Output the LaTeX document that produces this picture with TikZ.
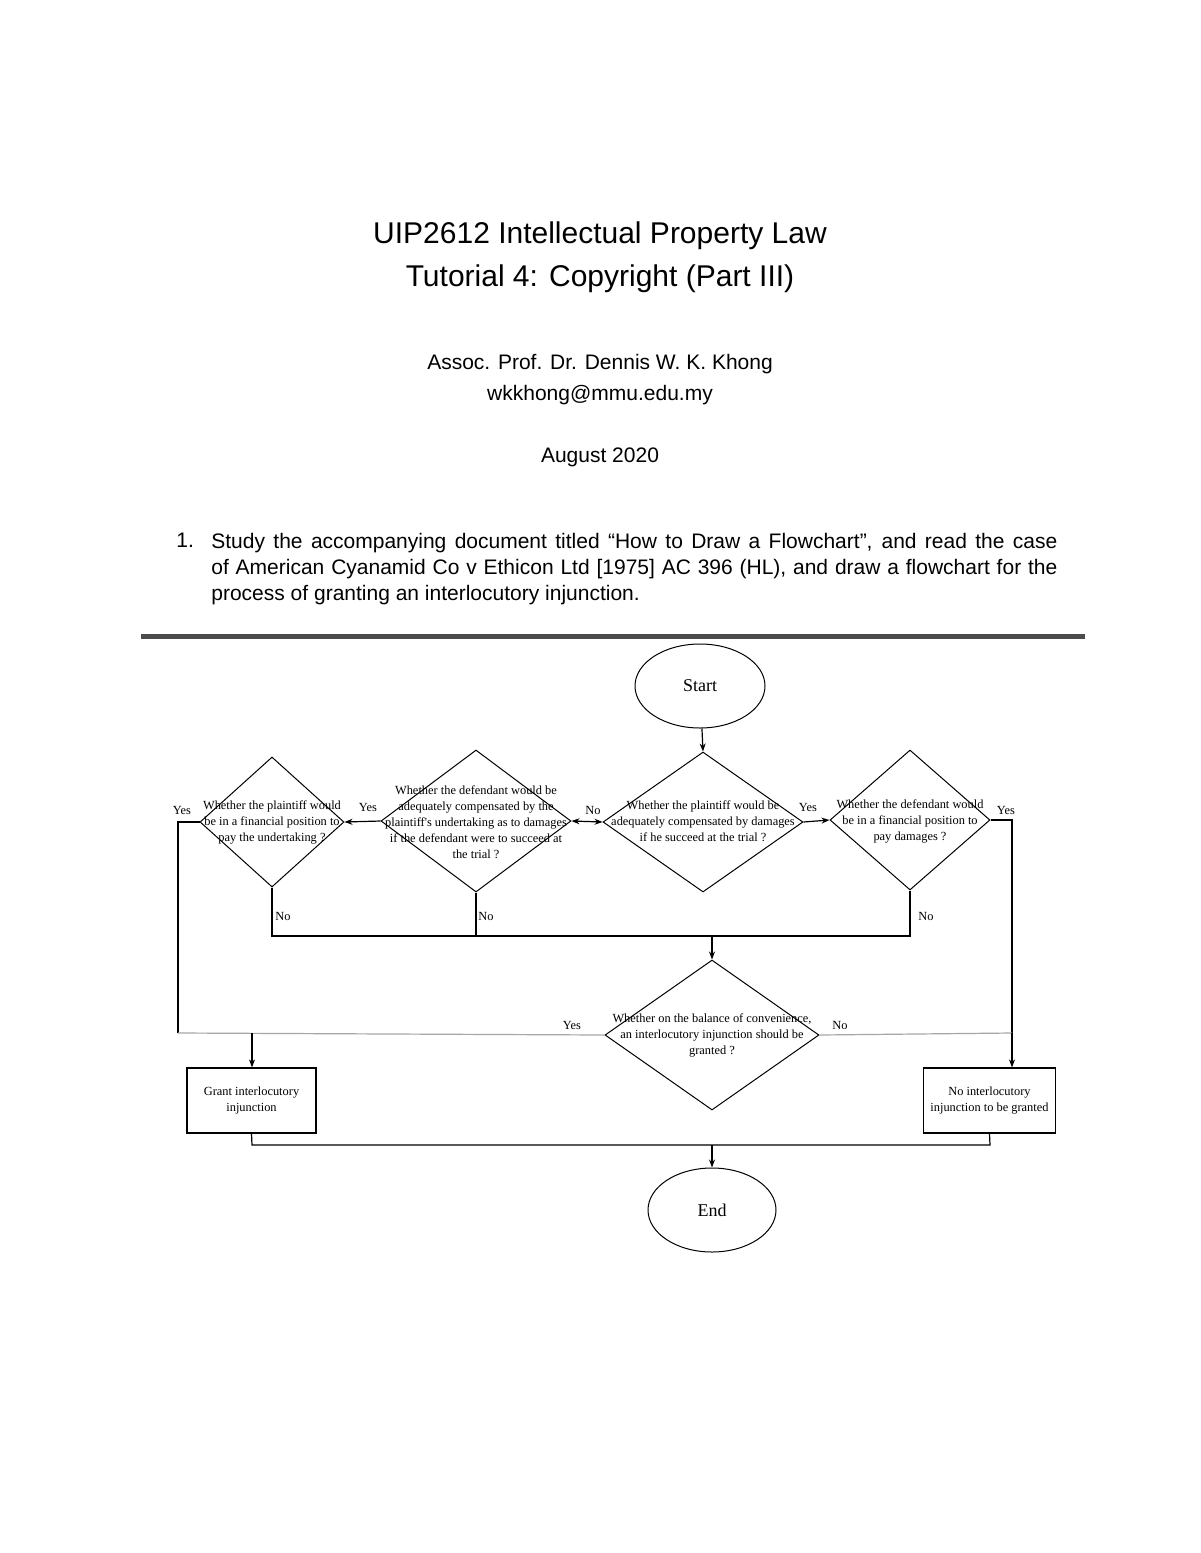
\documentclass[tikz,border=0pt]{standalone}
\usepackage{fontspec}
\setmainfont{Liberation Sans}
\newfontfamily\dserif{Liberation Serif}
\usetikzlibrary{shapes.geometric,arrows.meta}
\begin{document}
\begin{tikzpicture}[x=0.5pt,y=-0.5pt,
  dia/.style={draw,diamond,inner sep=0pt,line width=0.5pt},
  ell/.style={draw,ellipse,line width=0.5pt,font=\dserif\fontsize{9}{11}\selectfont},
  box/.style={draw,rectangle,line width=0.6pt,font=\dserif\fontsize{6.2}{8}\selectfont,align=center},
  txt/.style={font=\dserif\fontsize{6.2}{8}\selectfont,align=center,inner sep=0pt},
  lab/.style={font=\dserif\fontsize{6.2}{8}\selectfont,inner sep=1pt},
  con/.style={line width=0.6pt},
  arr/.style={con,-{Stealth[length=4pt,width=3pt]}},
  head/.style={font=\fontsize{10.5}{13}\selectfont}]
\useasboundingbox (0,0) rectangle (1200,1553);
\fill[white] (0,0) rectangle (1200,1553);
% header
\node[font=\fontsize{15}{18}\selectfont] (t1) at (600,236) {UIP2612 Intellectual Property Law};
\node[font=\fontsize{15}{18}\selectfont] (t2) at (600,279) {Tutorial 4: Copyright (Part III)};
\node[head] (a1) at (600,364) {Assoc. Prof. Dr. Dennis W. K. Khong};
\node[head] (a2) at (600,395) {wkkhong@mmu.edu.my};
\node[head] (a3) at (600,457) {August 2020};
\node[head,anchor=north west,inner sep=0pt] (n1) at (176,533) {1.};
\node[head,anchor=north west,inner sep=0pt,text width=423pt,align=justify] (p1) at (211,533)
 {Study the accompanying document titled ``How to Draw a Flowchart'', and read the case of American Cyanamid Co v Ethicon Ltd [1975] AC 396 (HL), and draw a flowchart for the process of granting an interlocutory injunction.};
\draw[line width=2.5pt,black!70] (141,636) -- (1085,636);
% nodes
\node[ell,minimum width=65pt,minimum height=42pt] (start) at (700,686) {Start};
\node[dia,minimum width=100pt,minimum height=70pt] (d1) at (703,822) {};
\node[dia,minimum width=95pt,minimum height=71pt] (d2) at (476,821) {};
\node[dia,minimum width=72pt,minimum height=65pt] (d3) at (272,822) {};
\node[dia,minimum width=80pt,minimum height=70pt] (d4) at (910,820) {};
\node[dia,minimum width=107pt,minimum height=75pt] (d5) at (712,1035) {};
\node[txt] (t_d1) at (703,821) {Whether the plaintiff would be\\adequately compensated by damages\\if he succeed at the trial ?};
\node[txt] (t_d2) at (476,822) {Whether the defendant would be\\adequately compensated by the\\plaintiff's undertaking as to damages\\if the defendant were to succeed at\\the trial ?};
\node[txt] (t_d3) at (272,822) {Whether the plaintiff would\\be in a financial position to\\pay the undertaking ?};
\node[txt] (t_d4) at (910,821) {Whether the defendant would\\be in a financial position to\\pay damages ?};
\node[txt] (t_d5) at (712,1035) {Whether on the balance of convenience,\\an interlocutory injunction should be\\granted ?};
\node[box,minimum width=64.5pt,minimum height=32.5pt] (g) at (251.5,1100.5) {Grant interlocutory\\injunction};
\node[box,minimum width=63.5pt,minimum height=32.5pt] (ng) at (989.5,1100.5) {No interlocutory\\injunction to be granted};
\node[ell,minimum width=64pt,minimum height=42pt] (end) at (712,1210) {End};
% coordinates
\coordinate (j1) at (272,936);
\coordinate (j2) at (476,936);
\coordinate (j3) at (910,936);
\coordinate (j4) at (712,936);
\coordinate (l1) at (178,822);
\coordinate (l2) at (178,1033);
\coordinate (l3) at (252,1033);
\coordinate (r1) at (1012,820);
\coordinate (r2) at (1012,1033);
\coordinate (b1) at (252,1145);
\coordinate (b2) at (990,1145);
\coordinate (b3) at (712,1145);
% connectors
\draw[arr] (start) -- (d1.north);
\draw[arr] (d1.east) -- (d4.west);
\draw[con,{Stealth[length=4pt,width=3pt]}-{Stealth[length=4pt,width=3pt]}] (d2.east) -- (d1.west);
\draw[arr] (d2.west) -- (d3.east);
\draw[con] (d3.south) -- (j1) -- (j3) -- (d4.south);
\draw[con] (d2.south) -- (j2);
\draw[arr] (j4) -- (d5.north);
\draw[con] (d3.west) -- (l1) -- (l2);
\draw[con,black!35] (l2) -- (d5.west);
\draw[arr] (l3) -- (l3 |- g.north);
\draw[con] (d4.east) -- (r1) -- (r2);
\draw[con,black!35] (d5.east) -- (r2);
\draw[arr] (r2) -- (r2 |- ng.north);
\draw[con] (g.south) -- (b1) -- (b2) -- (ng.south);
\draw[arr] (b3) -- (end.north);
% labels
\node[lab] (y1) at (808,807) {Yes};
\node[lab] (y2) at (368,807) {Yes};
\node[lab] (y3) at (182,810) {Yes};
\node[lab] (y4) at (1006,810) {Yes};
\node[lab] (no1) at (593,810) {No};
\node[lab] (no2) at (283,916) {No};
\node[lab] (no3) at (486,916) {No};
\node[lab] (no4) at (926,916) {No};
\node[lab] (y5) at (572,1025) {Yes};
\node[lab] (no5) at (840,1025) {No};
\end{tikzpicture}
\end{document}
